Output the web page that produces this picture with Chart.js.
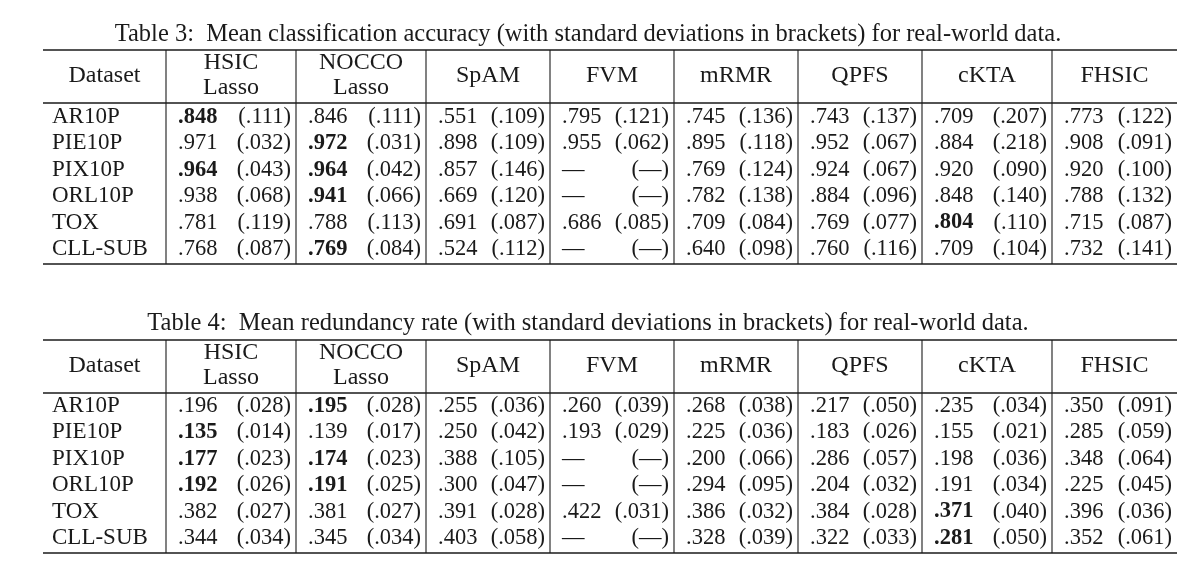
<!DOCTYPE html>
<html><head><meta charset="utf-8">
<script src="https://cdn.jsdelivr.net/npm/chart.js@4/dist/chart.umd.min.js"></script>
<style>html,body{margin:0;padding:0;background:#fff}</style>
</head><body>
<canvas id="c" width="1200" height="575"></canvas>
<script>
const datasetNames = ["AR10P","PIE10P","PIX10P","ORL10P","TOX","CLL-SUB"];
const methods = [["HSIC","Lasso"],["NOCCO","Lasso"],["SpAM"],["FVM"],["mRMR"],["QPFS"],["cKTA"],["FHSIC"]];
const caption3 = "Table 3:  Mean classification accuracy (with standard deviations in brackets) for real-world data.";
const caption4 = "Table 4:  Mean redundancy rate (with standard deviations in brackets) for real-world data.";
// rows = datasets, cols = methods; null = not available
const accMean = [
 [.848,.846,.551,.795,.745,.743,.709,.773],
 [.971,.972,.898,.955,.895,.952,.884,.908],
 [.964,.964,.857,null,.769,.924,.920,.920],
 [.938,.941,.669,null,.782,.884,.848,.788],
 [.781,.788,.691,.686,.709,.769,.804,.715],
 [.768,.769,.524,null,.640,.760,.709,.732]];
const accSd = [
 [.111,.111,.109,.121,.136,.137,.207,.122],
 [.032,.031,.109,.062,.118,.067,.218,.091],
 [.043,.042,.146,null,.124,.067,.090,.100],
 [.068,.066,.120,null,.138,.096,.140,.132],
 [.119,.113,.087,.085,.084,.077,.110,.087],
 [.087,.084,.112,null,.098,.116,.104,.141]];
const accBold = [[0,0],[1,1],[2,0],[2,1],[3,1],[4,6],[5,1]];
const redMean = [
 [.196,.195,.255,.260,.268,.217,.235,.350],
 [.135,.139,.250,.193,.225,.183,.155,.285],
 [.177,.174,.388,null,.200,.286,.198,.348],
 [.192,.191,.300,null,.294,.204,.191,.225],
 [.382,.381,.391,.422,.386,.384,.371,.396],
 [.344,.345,.403,null,.328,.322,.281,.352]];
const redSd = [
 [.028,.028,.036,.039,.038,.050,.034,.091],
 [.014,.017,.042,.029,.036,.026,.021,.059],
 [.023,.023,.105,null,.066,.057,.036,.064],
 [.026,.025,.047,null,.095,.032,.034,.045],
 [.027,.027,.028,.031,.032,.028,.040,.036],
 [.034,.034,.058,null,.039,.033,.050,.061]];
const redBold = [[0,1],[1,0],[2,0],[2,1],[3,0],[3,1],[4,6],[5,6]];

const colEdges = [43,166,296,426,550,674,798,922,1052,1177];
const tables = [
 {caption:caption3, capY:35, top:50, h1:63, h2:88, hmid:76, sep:103, row0:117, bottom:264, mean:accMean, sd:accSd, bold:accBold},
 {caption:caption4, capY:324, top:340, h1:353, h2:378, hmid:366, sep:393, row0:406, bottom:553, mean:redMean, sd:redSd, bold:redBold}
];
const rowStep = 26.4;
const FONT = '"Liberation Serif", "DejaVu Serif", serif';
const fmt = v => v.toFixed(3).replace(/^0/,'');

const tablePlugin = {
  id:'tablePlugin',
  afterDraw(chart){
    const ctx = chart.ctx, xs = chart.scales.x, ys = chart.scales.y;
    const X = v => xs.getPixelForValue(v), Y = v => ys.getPixelForValue(v);
    ctx.save();
    ctx.fillStyle = '#1a1a1a'; ctx.strokeStyle = '#1a1a1a';
    ctx.textBaseline = 'middle';
    for (const t of tables){
      ctx.font = '24.5px '+FONT; ctx.textAlign='center';
      ctx.fillText(t.caption, X(588), Y(t.capY));
      ctx.lineWidth = 1.3;
      [t.top,t.sep,t.bottom].forEach(y=>{ctx.beginPath();ctx.moveTo(X(colEdges[0]),Y(y));ctx.lineTo(X(colEdges[9]),Y(y));ctx.stroke();});
      ctx.lineWidth = 1.1;
      for (let i=1;i<colEdges.length-1;i++){ctx.beginPath();ctx.moveTo(X(colEdges[i]),Y(t.top));ctx.lineTo(X(colEdges[i]),Y(t.bottom));ctx.stroke();}
      ctx.font = '24px '+FONT;
      ctx.fillText('Dataset',X((colEdges[0]+colEdges[1])/2),Y(t.hmid));
      methods.forEach((m,j)=>{
        const cx = X((colEdges[j+1]+colEdges[j+2])/2);
        if (m.length===2){ctx.fillText(m[0],cx,Y(t.h1));ctx.fillText(m[1],cx,Y(t.h2));}
        else ctx.fillText(m[0],cx,Y(t.hmid));
      });
      datasetNames.forEach((d,i)=>{
        const y = Y(t.row0+i*rowStep);
        ctx.textAlign='left'; ctx.font='23px '+FONT;
        ctx.fillText(d, X(colEdges[0]+9), y);
        for (let j=0;j<methods.length;j++){
          const l = colEdges[j+1], r = colEdges[j+2];
          const mv = t.mean[i][j], sv = t.sd[i][j];
          const isBold = t.bold.some(b=>b[0]===i&&b[1]===j);
          ctx.textAlign='left';
          ctx.font=(isBold?'bold ':'')+'22.5px '+FONT;
          ctx.fillText(mv===null?'—':fmt(mv), X(l+12), y);
          ctx.textAlign='right'; ctx.font='22.5px '+FONT;
          ctx.fillText(sv===null?'(—)':'('+fmt(sv)+')', X(r-5), y);
        }
      });
    }
    ctx.restore();
  }
};

new Chart(document.getElementById('c'),{
  type:'scatter',
  data:{datasets:[{data:[],pointRadius:0}]},
  options:{
    responsive:false, animation:false, devicePixelRatio:1,
    layout:{padding:0},
    plugins:{legend:{display:false},tooltip:{enabled:false}},
    scales:{
      x:{type:'linear',min:0,max:1200,display:false},
      y:{type:'linear',min:0,max:575,reverse:true,display:false}
    }
  },
  plugins:[tablePlugin]
});
</script>
</body></html>
